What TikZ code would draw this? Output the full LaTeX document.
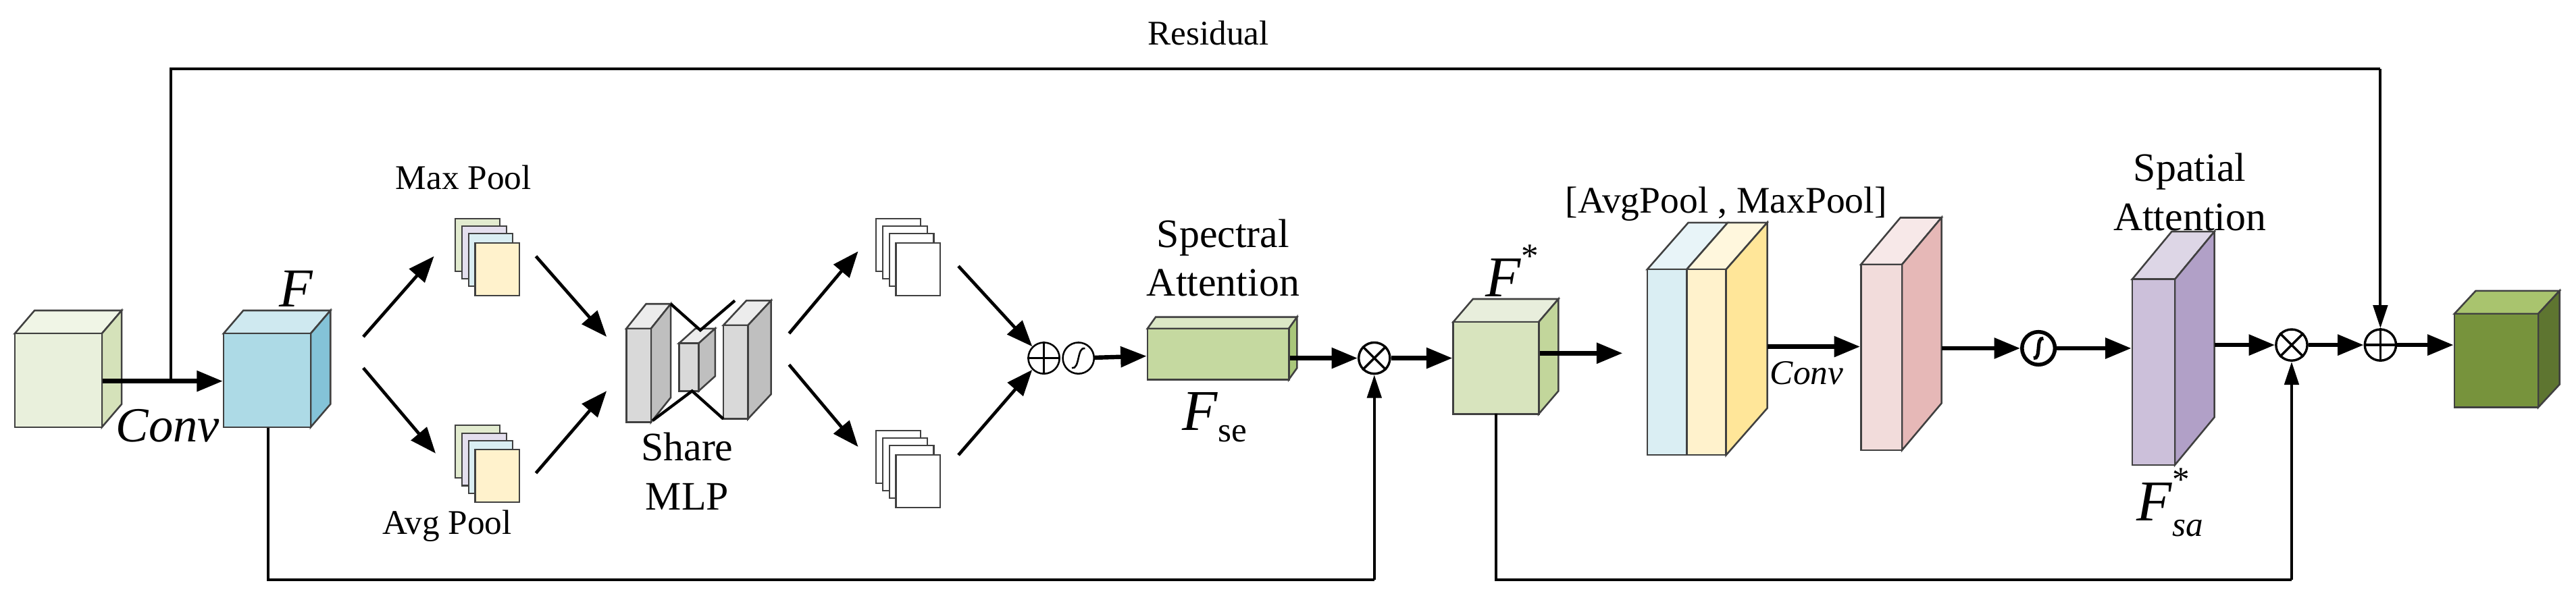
\documentclass[tikz,border=0pt]{standalone}
\usepackage{fontspec}
\setmainfont{Liberation Serif}
\usetikzlibrary{arrows.meta}
\definecolor{edge}{HTML}{404040}
\definecolor{cAf}{HTML}{E9F0DC}\definecolor{cAt}{HTML}{F0F5E6}\definecolor{cAs}{HTML}{D5E2BA}
\definecolor{cFf}{HTML}{ADDAE6}\definecolor{cFt}{HTML}{CFE9F0}\definecolor{cFs}{HTML}{84C3D8}
\definecolor{cGf}{HTML}{D9D9D9}\definecolor{cGt}{HTML}{ECECEC}\definecolor{cGs}{HTML}{BFBFBF}
\definecolor{cSf}{HTML}{C5D9A0}\definecolor{cSt}{HTML}{DCE8C6}\definecolor{cSs}{HTML}{A9C77A}
\definecolor{cPf}{HTML}{D8E4BE}\definecolor{cPt}{HTML}{E8EEDC}\definecolor{cPs}{HTML}{C2D69B}
\definecolor{cBf}{HTML}{DAEEF3}\definecolor{cBt}{HTML}{E8F4F8}\definecolor{cBs}{HTML}{B7DDE8}
\definecolor{cYf}{HTML}{FFF2CC}\definecolor{cYt}{HTML}{FFF7DD}\definecolor{cYs}{HTML}{FFE699}
\definecolor{cKf}{HTML}{F2DCDB}\definecolor{cKt}{HTML}{F7E8E8}\definecolor{cKs}{HTML}{E6B8B7}
\definecolor{cLf}{HTML}{CCC0DA}\definecolor{cLt}{HTML}{DDD6E6}\definecolor{cLs}{HTML}{B1A0C7}
\definecolor{cOf}{HTML}{77933C}\definecolor{cOt}{HTML}{A9C46E}\definecolor{cOs}{HTML}{5E7530}
\definecolor{s1}{HTML}{E2EBCF}\definecolor{s2}{HTML}{E4DFEE}\definecolor{s3}{HTML}{DAEEF3}\definecolor{s4}{HTML}{FFF2CC}
% name, x1, y1, x2, y2, dx, dy, colour prefix
\newcommand\mycube[8]{%
  \filldraw[fill=#8t,draw=edge,line width=0.6pt] (#2,#3) -- (#2+#6,#3-#7) -- (#4+#6,#3-#7) -- (#4,#3) -- cycle;
  \filldraw[fill=#8s,draw=edge,line width=0.6pt] (#4,#3) -- (#4+#6,#3-#7) -- (#4+#6,#5-#7) -- (#4,#5) -- cycle;
  \node[draw=edge,fill=#8f,line width=0.6pt,inner sep=0,minimum width={(#4-#2)*0.02cm},minimum height={(#5-#3)*0.02cm}]
    (#1) at ({(#2+#4)/2},{(#3+#5)/2}) {};}
\newcommand\mystack[6]{%
  \filldraw[fill=#4,draw=edge,line width=0.5pt] (#2,#3) rectangle ++(27,32);
  \filldraw[fill=#5,draw=edge,line width=0.5pt] (#2+4,#3+4.6) rectangle ++(27,32);
  \filldraw[fill=#6,draw=edge,line width=0.5pt] (#2+8,#3+9.2) rectangle ++(27,32);}
\tikzset{
  arr/.style={-{Triangle[length=9pt,width=7pt]},line width=1.5pt},
  thin arr/.style={-{Triangle[length=8pt,width=5pt]},line width=0.9pt},
  thinl/.style={line width=0.9pt},
  op/.style={circle,draw,line width=0.8pt,minimum size=0.38cm,inner sep=0},
  lab/.style={font=\fontsize{12}{14}\selectfont,align=center},
  big/.style={font=\fontsize{19}{21}\selectfont\itshape},
}
\begin{document}
\begin{tikzpicture}[x=0.02cm,y=-0.02cm]
\useasboundingbox (0,0) rectangle (1567,364);
\node[lab] (res) at (735,20) {Residual};
\mycube{in}{9}{203}{62}{260}{12}{14}{cA}
\mycube{F}{136}{203}{189}{260}{12}{14}{cF}
\node[big] (Fl) at (180,176) {F};
\node[font=\fontsize{17}{19}\selectfont\itshape] (conv) at (102,259) {Conv};
\draw[arr] (in.east |- 0,232) -- (F.west |- 0,232);
\coordinate (rj) at (104,232);
\coordinate (rt) at (104,42);
% pools
\mystack{maxs}{277}{133}{s1}{s2}{s3}
\node[draw=edge,fill=s4,line width=0.5pt,inner sep=0,minimum width=0.54cm,minimum height=0.64cm] (maxp) at (302.5,163.8) {};
\mystack{avgs}{277}{259}{s1}{s2}{s3}
\node[draw=edge,fill=s4,line width=0.5pt,inner sep=0,minimum width=0.54cm,minimum height=0.64cm] (avgp) at (302.5,289.8) {};
\node[lab] at (282,108) {Max Pool};
\node[lab] at (272,320) {Avg Pool};
\coordinate (a1) at (221,205); \coordinate (a1e) at (264,156);
\coordinate (a2) at (221,224); \coordinate (a2e) at (265,276);
\draw[arr,line width=1.1pt] (a1) -- (a1e);
\draw[arr,line width=1.1pt] (a2) -- (a2e);
% MLP
\mycube{m1}{381}{200}{396}{257}{12}{15}{cG}
\mycube{m2}{413}{209}{425}{238}{10}{9}{cG}
\mycube{m3}{440}{198}{455}{255}{14}{15}{cG}
\draw[line width=1pt] (408,185) -- (426,201) -- (447,183);
\draw[line width=1pt] (397,256) -- (421,238) -- (440,255);
\node[lab,font=\fontsize{14}{16}\selectfont] at (418,287) {Share\\[1pt]MLP};
\coordinate (b1) at (326,156); \coordinate (b1e) at (369,205);
\coordinate (b2) at (326,288); \coordinate (b2e) at (369,238);
\draw[arr,line width=1.1pt] (b1) -- (b1e);
\draw[arr,line width=1.1pt] (b2) -- (b2e);
% output stacks
\mystack{o1s}{533}{133}{white}{white}{white}
\node[draw=edge,fill=white,line width=0.5pt,inner sep=0,minimum width=0.54cm,minimum height=0.64cm] (o1) at (558.5,163.8) {};
\mystack{o2s}{533}{262}{white}{white}{white}
\node[draw=edge,fill=white,line width=0.5pt,inner sep=0,minimum width=0.54cm,minimum height=0.64cm] (o2) at (558.5,292.8) {};
\coordinate (c1) at (480,203); \coordinate (c1e) at (522,153);
\coordinate (c2) at (480,222); \coordinate (c2e) at (522,272);
\draw[arr,line width=1.1pt] (c1) -- (c1e);
\draw[arr,line width=1.1pt] (c2) -- (c2e);
\node[op,line width=0.6pt] (add1) at (635,218) {};
\draw[line width=0.6pt] (add1.north) -- (add1.south) (add1.west) -- (add1.east);
\node[op,line width=0.6pt] (sig1) at (656,218) {};
\draw[line width=0.6pt,shift={(sig1.center)}] (-4,6) .. controls (1,7) and (-1,-7) .. (4,-6);
\coordinate (d1) at (583,162); \coordinate (d2) at (583,277);
\draw[arr,line width=1.1pt] (d1) -- (add1.north west);
\draw[arr,line width=1.1pt] (d2) -- (add1.south west);
% spectral
\mycube{se}{698}{200}{784}{231}{5}{7}{cS}
\draw[arr] (sig1) -- (se);
\node[lab,font=\fontsize{14}{16}\selectfont] at (744,157) {Spectral\\[1pt]Attention};
\node[font=\fontsize{20}{22}\selectfont] at (739,254) {\textit{F}\raisebox{-0.45ex}{\fontsize{12}{12}\selectfont se}};
\node[op] (mul1) at (836,218) {};
\draw[line width=0.8pt] (mul1.north east) -- (mul1.south west) (mul1.north west) -- (mul1.south east);
\draw[arr] (se.east |- mul1) -- (mul1);
\draw[thinl] (F.south -| 163,0) -- (163,353) -- (836,353);
\draw[thin arr] (836,353) -- (mul1);
% F*
\mycube{Fs}{884}{196}{936}{252}{12}{14}{cP}
\draw[arr] (mul1) -- (Fs.west |- mul1);
\node[font=\fontsize{20}{22}\selectfont] at (920,165) {\textit{F}\raisebox{1.1ex}{\fontsize{12}{12}\selectfont *}};
% pair slab
\filldraw[fill=cBt,draw=edge,line width=0.6pt] (1002,164) -- (1027,135.5) -- (1051,135.5) -- (1026,164) -- cycle;
\filldraw[fill=cYt,draw=edge,line width=0.6pt] (1026,164) -- (1051,135.5) -- (1075,135.5) -- (1050,164) -- cycle;
\filldraw[fill=cYs,draw=edge,line width=0.6pt] (1050,164) -- (1075,135.5) -- (1075,248.5) -- (1050,277) -- cycle;
\node[draw=edge,fill=cBf,line width=0.6pt,inner sep=0,minimum width=0.48cm,minimum height=2.26cm] (pb) at (1014,220.5) {};
\node[draw=edge,fill=cYf,line width=0.6pt,inner sep=0,minimum width=0.48cm,minimum height=2.26cm] (py) at (1038,220.5) {};
\node[lab,font=\fontsize{13}{15}\selectfont] at (1050,124) {[AvgPool , MaxPool]};
\coordinate (fsr) at (987,215);
\draw[arr] (Fs.east |- fsr) -- (fsr);
\draw[thinl] (910,252) -- (910,353) -- (1394,353);
% pink
\mycube{pk}{1132}{161}{1157}{274}{24}{28.5}{cK}
\draw[arr] (1075,211) -- (pk.west |- 0,211);
\node[font=\fontsize{12}{14}\selectfont\itshape] at (1099,227) {Conv};
\node[op,line width=1.3pt,minimum size=0.4cm] (sig2) at (1240,212) {};
\draw[line width=1.2pt,shift={(sig2.center)}] (-3,6) .. controls (2,7) and (-2,-7) .. (3,-6);
\draw[arr] (1181,212) -- (sig2);
% lavender
\mycube{sa}{1297}{170}{1323}{283}{24}{29}{cL}
\draw[arr] (sig2) -- (sa.west |- sig2);
\node[lab,font=\fontsize{14}{16}\selectfont] at (1332,117) {Spatial\\[1pt]Attention};
\node[font=\fontsize{20}{22}\selectfont] at (1320,306) {\textit{F}\rlap{\raisebox{1.1ex}{\fontsize{12}{12}\selectfont *}}\raisebox{-0.6ex}{\fontsize{12}{12}\selectfont\itshape sa}};
\node[op] (mul2) at (1394,210) {};
\draw[line width=0.8pt] (mul2.north east) -- (mul2.south west) (mul2.north west) -- (mul2.south east);
\draw[arr] (1347,210) -- (mul2);
\draw[thin arr] (1394,353) -- (mul2);
\node[op] (add2) at (1448,210) {};
\draw[line width=0.8pt] (add2.north) -- (add2.south) (add2.west) -- (add2.east);
\draw[arr] (mul2) -- (add2);
% output
\mycube{out}{1493}{191}{1544}{248}{13}{14}{cO}
\draw[arr] (add2) -- (out.west |- add2);
% residual
\draw[thinl] (rj) -- (rt) -- (1448,42);
\draw[thin arr] (1448,42) -- (add2);
\end{tikzpicture}
\end{document}
